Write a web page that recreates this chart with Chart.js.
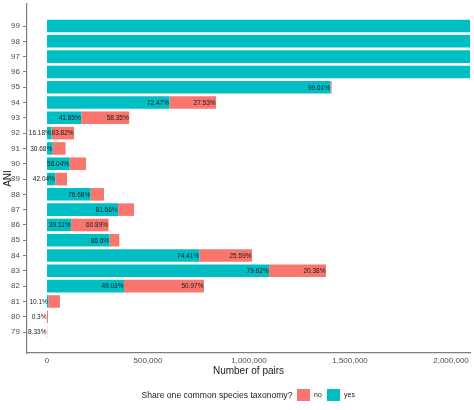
<!DOCTYPE html>
<html>
<head>
<meta charset="utf-8">
<script src="https://cdn.jsdelivr.net/npm/chart.js@4.4.1/dist/chart.umd.min.js"></script>
<style>
  html, body { margin: 0; padding: 0; background: #fff; }
  #wrap { position: relative; width: 474px; height: 410px; font-family: "Liberation Sans", Arial, sans-serif; }
  #c { position: absolute; left: 0; top: 0; }
  #legend { position: absolute; left: 0; top: 389px; width: 474px; height: 12px; color: #1a1a1a; }
  #legend span { position: absolute; top: 0; height: 12px; line-height: 12px; white-space: nowrap; }
  #legend .t { font-size: 8.6px; left: 141.5px; }
  #legend .box { width: 12.5px; }
  #legend .small { font-size: 7px; }
</style>
</head>
<body>
<div id="wrap">
  <canvas id="c" width="474" height="410"></canvas>
  <div id="legend">
    <span class="t">Share one common species taxonomy?</span>
    <span class="box" style="left:297px;background:#F8766D"></span>
    <span class="small" style="left:314px">no</span>
    <span class="box" style="left:327px;background:#00BFC4"></span>
    <span class="small" style="left:344px">yes</span>
  </div>
</div>
<script>
const ANI = [79, 80, 81, 82, 83, 84, 85, 86, 87, 88, 89, 90, 91, 92, 93, 94, 95, 96, 97, 98, 99];
const yesPairs = [100, 15, 6500, 381000, 1099500, 755300, 310000, 119300, 352000, 216200, 41600, 112000, 28200, 21700, 169500, 606600, 1403500, 2600000, 3100000, 3600000, 4200000];
const noPairs  = [1100, 4985, 57500, 396000, 281500, 259700, 48000, 185700, 79000, 65800, 57400, 81000, 63800, 112300, 237500, 230400, 5500, 5000, 5000, 5000, 5000];
const yesLabels = ['8.33%', '0.3%', '10.1%', '49.03%', '79.62%', '74.41%', '86.6%', '39.11%', '81.66%', '76.68%', '42.04%', '58.04%', '30.68%', '16.18%', '41.65%', '72.47%', '99.61%', null, null, null, null];
const noLabels  = [null, null, null, '50.97%', '20.38%', '25.59%', null, '60.89%', null, null, null, null, null, '83.82%', '58.35%', '27.53%', null, null, null, null, null];
const xTicks = [0, 500000, 1000000, 1500000, 2000000];

const FONT = '"Liberation Sans", Arial, sans-serif';

const labelPlugin = {
  id: 'segLabels',
  afterDatasetsDraw(chart) {
    const ctx = chart.ctx;
    const area = chart.chartArea;
    ctx.save();
    ctx.font = '6.5px ' + FONT;
    ctx.fillStyle = '#1a1a1a';
    ctx.textAlign = 'right';
    ctx.textBaseline = 'middle';
    chart.data.datasets.forEach((ds, di) => {
      const meta = chart.getDatasetMeta(di);
      meta.data.forEach((el, i) => {
        const t = ds.segLabels[i];
        if (!t) return;
        const x = el.x - 0.5;
        if (x > area.right) return;
        ctx.fillText(t, x, el.y + 0.5);
      });
    });
    ctx.restore();
  }
};

new Chart(document.getElementById('c'), {
  type: 'bar',
  data: {
    datasets: [
      {
        label: 'yes',
        data: ANI.map((a, i) => ({ x: yesPairs[i], y: a })),
        backgroundColor: '#00BFC4',
        segLabels: yesLabels,
        barPercentage: 0.82,
        categoryPercentage: 1
      },
      {
        label: 'no',
        data: ANI.map((a, i) => ({ x: noPairs[i], y: a })),
        backgroundColor: '#F8766D',
        segLabels: noLabels,
        barPercentage: 0.82,
        categoryPercentage: 1
      }
    ]
  },
  options: {
    indexAxis: 'y',
    responsive: false,
    animation: false,
    devicePixelRatio: 1,
    layout: { padding: { top: 4, right: 4, left: 0, bottom: 30 } },
    plugins: { legend: { display: false }, tooltip: { enabled: false } },
    scales: {
      x: {
        type: 'linear',
        stacked: true,
        min: -99000,
        max: 2094000,
        afterBuildTicks: (s) => { s.ticks = xTicks.map(v => ({ value: v })); },
        afterFit: (s) => { s.height = 27; s.paddingLeft = 0; s.paddingRight = 0; },
        ticks: {
          color: '#4d4d4d',
          font: { family: FONT, size: 8 },
          padding: 3,
          maxRotation: 0,
          autoSkip: false,
          callback: (v) => Number(v).toLocaleString('en-US')
        },
        grid: { display: false, drawTicks: false },
        border: { display: true, color: '#7f7f7f', width: 1.2 },
        title: {
          display: true,
          text: 'Number of pairs',
          color: '#1a1a1a',
          font: { family: FONT, size: 10 },
          padding: { top: 0, bottom: 3 }
        }
      },
      y: {
        type: 'linear',
        stacked: true,
        offset: false,
        min: 77.63,
        max: 100.44,
        afterBuildTicks: (s) => { s.ticks = ANI.map(v => ({ value: v })); },
        afterFit: (s) => { s.width = 27; s.paddingTop = 0; s.paddingBottom = 0; },
        ticks: {
          color: '#4d4d4d',
          font: { family: FONT, size: 8 },
          padding: 3,
          autoSkip: false,
          callback: (v) => String(v)
        },
        grid: { offset: false, drawOnChartArea: false, drawTicks: true, tickLength: 4, color: '#7f7f7f' },
        border: { display: true, color: '#7f7f7f', width: 1.2 },
        title: {
          display: true,
          text: 'ANI',
          color: '#1a1a1a',
          font: { family: FONT, size: 10 },
          padding: { top: 2, bottom: 0 }
        }
      }
    }
  },
  plugins: [labelPlugin]
});
</script>
</body>
</html>
